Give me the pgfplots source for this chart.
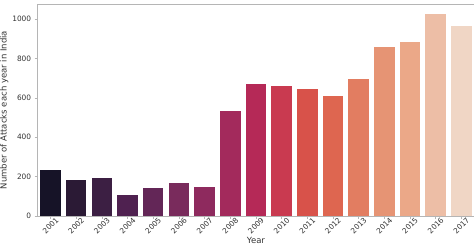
\documentclass[border=0pt]{standalone}
\usepackage{pgfplots}
\pgfplotsset{compat=1.18}
\usepackage{fontspec}
\setmainfont{DejaVu Sans}
\definecolor{c1}{HTML}{161327}
\definecolor{c2}{HTML}{2B1A35}
\definecolor{c3}{HTML}{3C1F43}
\definecolor{c4}{HTML}{4F2150}
\definecolor{c5}{HTML}{632657}
\definecolor{c6}{HTML}{792B5C}
\definecolor{c7}{HTML}{8E2A5E}
\definecolor{c8}{HTML}{A32A5C}
\definecolor{c9}{HTML}{B52957}
\definecolor{c10}{HTML}{C93A50}
\definecolor{c11}{HTML}{D8524A}
\definecolor{c12}{HTML}{DE6650}
\definecolor{c13}{HTML}{E27D61}
\definecolor{c14}{HTML}{E69474}
\definecolor{c15}{HTML}{EBA888}
\definecolor{c16}{HTML}{EDBEA6}
\definecolor{c17}{HTML}{F0D6C5}
\definecolor{spine}{HTML}{B5B5B5}
\definecolor{txt}{HTML}{333333}
\begin{document}
\begin{tikzpicture}
\begin{axis}[
  scale only axis,
  width=436.5pt, height=212pt,
  xmin=-0.5, xmax=16.5,
  ymin=0, ymax=1077,
  xtick={0,...,16},
  xticklabels={2001,2002,2003,2004,2005,2006,2007,2008,2009,2010,2011,2012,2013,2014,2015,2016,2017},
  ytick={0,200,400,600,800,1000},
  /pgf/number format/assume math mode=true,
  /pgf/number format/1000 sep={},
  tick label style={font=\fontsize{7.4}{8}\selectfont, text=txt},
  xticklabel style={yshift=-6.5pt, rotate=45, anchor=center},
  yticklabel style={xshift=0pt},
  axis line style={spine, line width=0.8pt},
  major tick style={spine, line width=0.6pt},
  tick align=outside,
  major tick length=3pt,
  xtick pos=bottom, ytick pos=left,
  axis x line*=bottom, axis y line*=left,
  xlabel={Year},
  ylabel={Number of Attacks each year in India},
  label style={font=\fontsize{8.5}{10}\selectfont, text=txt},
  xlabel style={yshift=5pt},
  ylabel style={yshift=-3pt},
  ybar, bar width=20.5pt, bar shift=0pt,
  every axis plot/.append style={draw=none},
  clip=false,
]
\addplot[fill=c1] coordinates {(0,232)};
\addplot[fill=c2] coordinates {(1,181)};
\addplot[fill=c3] coordinates {(2,195)};
\addplot[fill=c4] coordinates {(3,105)};
\addplot[fill=c5] coordinates {(4,144)};
\addplot[fill=c6] coordinates {(5,166)};
\addplot[fill=c7] coordinates {(6,147)};
\addplot[fill=c8] coordinates {(7,533)};
\addplot[fill=c9] coordinates {(8,670)};
\addplot[fill=c10] coordinates {(9,662)};
\addplot[fill=c11] coordinates {(10,643)};
\addplot[fill=c12] coordinates {(11,611)};
\addplot[fill=c13] coordinates {(12,694)};
\addplot[fill=c14] coordinates {(13,858)};
\addplot[fill=c15] coordinates {(14,884)};
\addplot[fill=c16] coordinates {(15,1024)};
\addplot[fill=c17] coordinates {(16,967)};
\end{axis}
\draw[spine, line width=0.8pt] (current axis.north west) -- (current axis.north east);
\pgfresetboundingbox
\path (current axis.south west) ++(-37.7pt,-33pt) rectangle ++(474pt,249pt);
\end{tikzpicture}
\end{document}
